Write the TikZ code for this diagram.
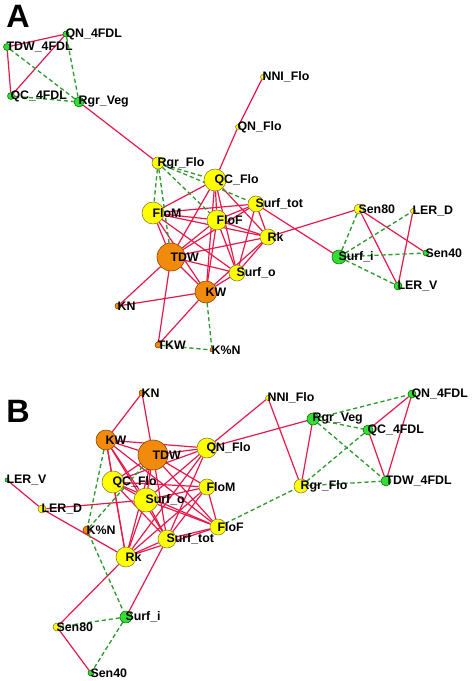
\documentclass[tikz,border=0pt]{standalone}
\usepackage{fontspec}
\setmainfont{Liberation Sans}
\usetikzlibrary{backgrounds}

\definecolor{edgered}{HTML}{E8174A}
\definecolor{edgegreen}{HTML}{2E9B2E}
\definecolor{nodeyellow}{HTML}{FFFF00}
\definecolor{nodeorange}{HTML}{F28A0C}
\definecolor{nodegreen}{HTML}{33DD33}

% vertex with its name written from its centre
\newcommand\trait[5]{%
  \node[#1, sz=#2] (#3) at (#4) {};
  \node[lbl] (#3-l) at (#3.center) {#5};}

\begin{document}
\begin{tikzpicture}[
  x=0.025cm, y=-0.025cm,
  every node/.style={inner sep=0pt},
  sz/.style={minimum size=#1*0.05cm},
  vtx/.style={circle, draw, line width=0.4pt},
  yel/.style={vtx, fill=nodeyellow, draw=yellow!40!black},
  ora/.style={vtx, fill=nodeorange, draw=orange!50!black},
  grn/.style={vtx, fill=nodegreen, draw=green!45!black},
  lbl/.style={anchor=west, font=\bfseries\fontsize{8.8}{9}\selectfont, xshift=-0.5pt},
  posedge/.style={edgered, line width=0.85pt},
  negedge/.style={edgegreen, line width=0.95pt, dash pattern=on 3pt off 2pt},
  panel/.style={font=\bfseries\fontsize{23}{24}\selectfont}
]
\useasboundingbox (0,0) rectangle (474,681);

% panel A
\node[panel] (labA) at (18,16) {A};
\trait{grn}{3}{aQNfour}{66,34}{QN\_4FDL}
\trait{grn}{3.5}{aTDWfour}{7,47}{TDW\_4FDL}
\trait{grn}{3.5}{aQCfour}{11,96}{QC\_4FDL}
\trait{grn}{5}{aRgrVeg}{79,102}{Rgr\_Veg}
\trait{yel}{2.5}{aNNI}{263,77}{NNI\_Flo}
\trait{yel}{2.5}{aQNflo}{238,127}{QN\_Flo}
\trait{yel}{6}{aRgrFlo}{158,163}{Rgr\_Flo}
\trait{yel}{11}{aQCflo}{215,180}{QC\_Flo}
\trait{yel}{8}{aSurftot}{256,204}{Surf\_tot}
\trait{yel}{11}{aFloM}{153,213}{FloM}
\trait{yel}{10}{aFloF}{217,220}{FloF}
\trait{yel}{8}{aRk}{268,237}{Rk}
\trait{ora}{14}{aTDW}{171,257}{TDW}
\trait{yel}{8}{aSurfo}{237,273}{Surf\_o}
\trait{ora}{11}{aKW}{206,292}{KW}
\trait{ora}{3}{aKN}{118,306}{KN}
\trait{ora}{3}{aTKW}{158,345}{TKW}
\trait{ora}{2}{aKpN}{212,350}{K\%N}
\trait{yel}{5}{aSen}{359,209}{Sen80}
\trait{yel}{2.5}{aLERD}{413,211}{LER\_D}
\trait{grn}{7}{aSurfi}{339,257}{Surf\_i}
\trait{grn}{3}{aSenf}{426,253}{Sen40}
\trait{grn}{4}{aLERV}{398,286}{LER\_V}

% panel B
\node[panel] (labB) at (18,411) {B};
\trait{ora}{3}{bKN}{142,393}{KN}
\trait{ora}{10}{bKW}{106,440}{KW}
\trait{ora}{15}{bTDW}{153,455}{TDW}
\trait{yel}{10}{bQNflo}{207,448}{QN\_Flo}
\trait{grn}{2}{bLERV}{7,480}{LER\_V}
\trait{yel}{11}{bQCflo}{113,482}{QC\_Flo}
\trait{yel}{8}{bFloM}{207,487}{FloM}
\trait{yel}{12}{bSurfo}{146,500}{Surf\_o}
\trait{yel}{4}{bLERD}{42,509}{LER\_D}
\trait{ora}{4}{bKpN}{87,530}{K\%N}
\trait{yel}{8}{bFloF}{218,527}{FloF}
\trait{yel}{9}{bSurftot}{167,539}{Surf\_tot}
\trait{yel}{10}{bRk}{126,557}{Rk}
\trait{grn}{6}{bSurfi}{126,617}{Surf\_i}
\trait{yel}{4}{bSen}{57,627}{Sen80}
\trait{grn}{3}{bSenf}{91,673}{Sen40}
\trait{yel}{2.5}{bNNI}{268,398}{NNI\_Flo}
\trait{grn}{4}{bQNfour}{412,394}{QN\_4FDL}
\trait{grn}{6}{bRgrVeg}{313,419}{Rgr\_Veg}
\trait{grn}{5}{bQCfour}{368,430}{QC\_4FDL}
\trait{yel}{7}{bRgrFlo}{301,486}{Rgr\_Flo}
\trait{grn}{5}{bTDWfour}{386,481}{TDW\_4FDL}

\begin{pgfonlayer}{background}
  % positive correlations
  \foreach \s/\t in {aQNfour/aTDWfour, aTDWfour/aQCfour, aQCfour/aQNfour,
      aRgrVeg/aRgrFlo, aNNI/aQNflo, aQNflo/aQCflo,
      aQCflo/aFloM, aQCflo/aFloF, aQCflo/aRk, aQCflo/aTDW, aQCflo/aSurfo, aQCflo/aKW,
      aFloM/aSurftot, aFloM/aFloF, aFloM/aRk, aFloM/aTDW, aFloM/aSurfo, aFloM/aKW,
      aFloF/aSurftot, aFloF/aRk, aFloF/aTDW, aFloF/aSurfo, aFloF/aKW,
      aSurftot/aRk, aSurftot/aTDW, aSurftot/aSurfo, aSurftot/aSurfi,
      aRk/aTDW, aRk/aSurfo, aRk/aKW, aRk/aSen,
      aTDW/aSurfo, aTDW/aKW, aTDW/aKN, aTDW/aTKW,
      aSurfo/aKW, aKW/aKN, aKW/aTKW,
      aSen/aLERV, aSen/aSenf, aLERD/aLERV}
    \draw[posedge] (\s) -- (\t);
  \foreach \s/\t in {bKN/bKW, bKN/bTDW, bKW/bTDW, bKW/bQNflo, bKW/bQCflo, bKW/bSurfo,
      bKW/bSurftot, bKW/bRk, bKW/bFloF,
      bTDW/bQNflo, bTDW/bQCflo, bTDW/bSurfo, bTDW/bFloM, bTDW/bFloF, bTDW/bSurftot, bTDW/bRk,
      bQNflo/bNNI, bQNflo/bRgrVeg, bQNflo/bQCflo, bQNflo/bSurfo, bQNflo/bSurftot, bQNflo/bRk,
      bQCflo/bSurfo, bQCflo/bFloM, bQCflo/bFloF, bQCflo/bSurftot, bQCflo/bRk,
      bFloM/bSurfo, bFloM/bSurftot, bFloM/bRk, bFloM/bFloF,
      bSurfo/bFloF, bSurfo/bSurftot, bSurfo/bRk, bSurfo/bLERD,
      bFloF/bSurftot, bFloF/bRk, bSurftot/bRk, bSurftot/bSurfi,
      bRk/bLERD, bRk/bSen, bLERV/bLERD, bSen/bSenf,
      bNNI/bRgrFlo, bRgrVeg/bRgrFlo,
      bQNfour/bQCfour, bQNfour/bTDWfour, bQCfour/bTDWfour}
    \draw[posedge] (\s) -- (\t);
  % negative correlations
  \foreach \s/\t in {aTDWfour/aRgrVeg, aQNfour/aRgrVeg, aQCfour/aRgrVeg,
      aRgrFlo/aQCflo, aRgrFlo/aFloM, aRgrFlo/aFloF, aRgrFlo/aTDW, aRgrFlo/aSurftot,
      aKW/aKpN, aTKW/aKpN,
      aSen/aSurfi, aSurfi/aLERD, aSurfi/aSenf, aSurfi/aLERV,
      bKW/bKpN, bTDW/bKpN, bKpN/bSurfi, bSurfi/bSen, bSurfi/bSenf,
      bFloF/bRgrFlo, bRgrFlo/bQCfour, bRgrFlo/bTDWfour,
      bRgrVeg/bQNfour, bRgrVeg/bQCfour, bRgrVeg/bTDWfour}
    \draw[negedge] (\s) -- (\t);
\end{pgfonlayer}
\end{tikzpicture}
\end{document}
